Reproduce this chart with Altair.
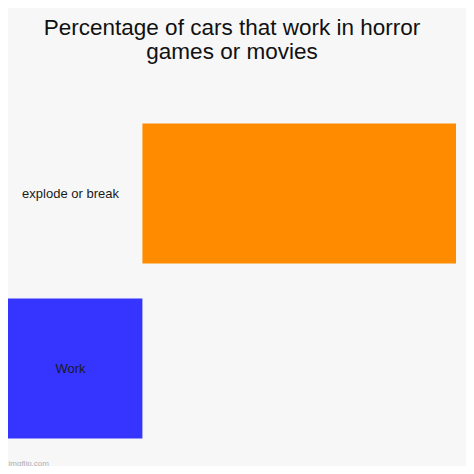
import altair as alt
import pandas as pd

categories = ["explode or break", "Work"]
values = [70, 30]
colors = ["#ff8c00", "#3535ff"]
x_order = ["Work", "explode or break"]  # order along the x axis
title_lines = ["Percentage of cars that work in horror", "games or movies"]
watermark = "imgflip.com"

df = pd.DataFrame({"category": categories, "value": values})
df["order"] = df["category"].map({c: i for i, c in enumerate(x_order)})
df = df.sort_values("order")
df["end"] = df["value"].cumsum()
df["start"] = df["end"] - df["value"]

chart = (
    alt.Chart(df)
    .mark_bar()
    .encode(
        y=alt.Y(
            "category:N",
            sort=categories,
            scale=alt.Scale(paddingInner=0.2, paddingOuter=0.1),
            axis=alt.Axis(
                title=None,
                orient="left",
                ticks=False,
                tickSize=0,
                domain=False,
                grid=False,
                labelPadding=-62,
                labelAlign="center",
                labelBaseline="middle",
                labelFontSize=13,
                labelFont="Liberation Sans",
                labelColor="#1a1a1a",
                labelLimit=0,
                labelOverlap=False,
                zindex=1,
            ),
        ),
        x=alt.X(
            "start:Q",
            scale=alt.Scale(domain=[0, 100], nice=False, zero=True),
            axis=alt.Axis(
                title=watermark,
                labels=False,
                ticks=False,
                domain=False,
                grid=False,
                titleAnchor="start",
                titleAlign="left",
                titleX=0,
                titleY=7,
                titleBaseline="middle",
                titleFontSize=8,
                titleFont="Liberation Sans",
                titleFontWeight="normal",
                titleColor="#b0b0b0",
            ),
        ),
        x2="end:Q",
        color=alt.Color(
            "category:N",
            scale=alt.Scale(domain=categories, range=colors),
            legend=None,
        ),
    )
    .properties(
        width=448,
        height=350,
        title=alt.Title(
            title_lines,
            fontSize=22.5,
            font="Liberation Sans",
            fontWeight="normal",
            color="#111111",
            anchor="middle",
            lineHeight=24,
            offset=43,
        ),
        autosize=alt.AutoSizeParams(type="none"),
        padding={"left": 0, "top": 98, "right": 10, "bottom": 10},
        background="#f7f7f7",
    )
    .configure_view(stroke=None)
)

chart.save("out.html", embed_options={"renderer": "svg", "actions": False})
